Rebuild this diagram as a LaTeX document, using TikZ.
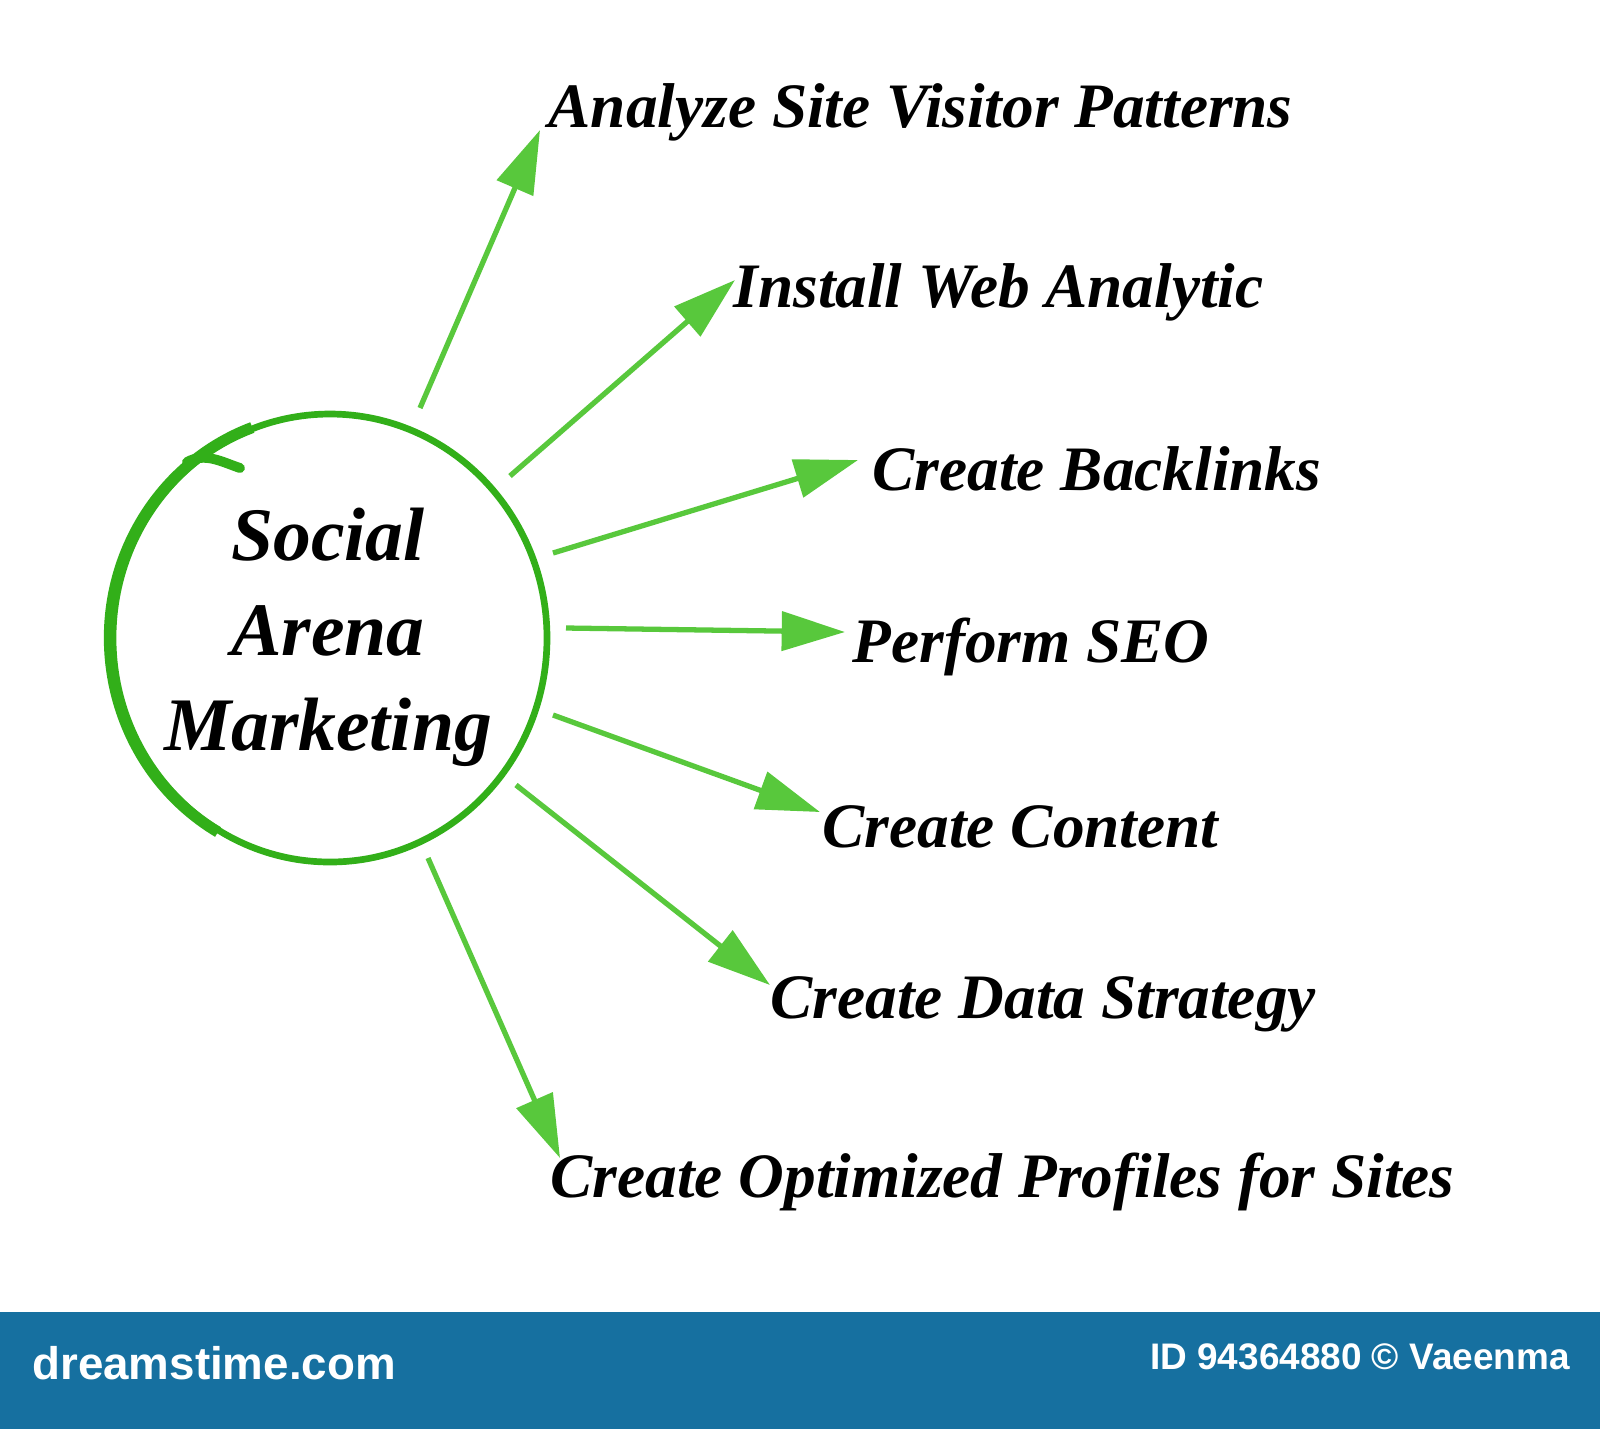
\documentclass[tikz,border=0pt]{standalone}
\usepackage{fontspec}
\setmainfont{Liberation Serif}
\setsansfont{Liberation Sans}
\usetikzlibrary{arrows.meta}
\definecolor{arr}{RGB}{88,200,60}
\definecolor{circ}{RGB}{50,175,25}
\definecolor{bar}{RGB}{22,112,160}
\tikzset{
  conn/.style={draw=arr,line width=1.5pt,-{Triangle[length=18pt,width=11pt]}},
  lbl/.style={anchor=west,inner sep=0pt,font=\fontsize{18}{21}\selectfont\bfseries\itshape},
  ctr/.style={align=center,inner sep=0pt,font=\fontsize{21.5}{27}\selectfont\bfseries\itshape}
}
\begin{document}
\begin{tikzpicture}[x=0.01cm,y=-0.01cm]
\useasboundingbox (0,0) rectangle (1600,1429);
\fill[white] (0,0) rectangle (1600,1429);
% circle
\draw[circ,line width=1.9pt] (330,638) ellipse [x radius=217,y radius=224];
\draw[circ,line width=3.2pt] (330,638) ++(120:224) arc[start angle=120,end angle=250,x radius=217,y radius=224];
\draw[circ,line width=2.8pt,line cap=round] (187,462) .. controls (205,452) and (222,462) .. (240,468);
\node[ctr] (c) at (328,637) {Social\\Arena\\Marketing};
% labels
\node[lbl] (l1) at (548,112) {Analyze Site Visitor Patterns};
\node[lbl] (l2) at (733,292) {Install Web Analytic};
\node[lbl] (l3) at (872,469) {Create Backlinks};
\node[lbl] (l4) at (852,647) {Perform SEO};
\node[lbl] (l5) at (822,827) {Create Content};
\node[lbl] (l6) at (770,1004) {Create Data Strategy};
\node[lbl] (l7) at (550,1182) {Create Optimized Profiles for Sites};
% arrows
\coordinate (s1) at (420,408); \coordinate (e1) at (540,130);
\coordinate (s2) at (510,476); \coordinate (e2) at (735,280);
\coordinate (s3) at (553,553); \coordinate (e3) at (858,460);
\coordinate (s4) at (566,628); \coordinate (e4) at (845,632);
\coordinate (s5) at (553,715); \coordinate (e5) at (820,812);
\coordinate (s6) at (516,785); \coordinate (e6) at (770,985);
\coordinate (s7) at (428,858); \coordinate (e7) at (560,1158);
\foreach \i in {1,...,7} \draw[conn] (s\i) -- (e\i);
% footer bar
\fill[bar] (0,1312) rectangle (1600,1429);
\node[anchor=west,text=white,font=\sffamily\bfseries\fontsize{13}{16}\selectfont] (wm) at (20,1363) {dreamstime.com};
\node[anchor=east,text=white,font=\sffamily\bfseries\fontsize{10.5}{13}\selectfont] (id) at (1582,1357) {ID 94364880 © Vaeenma};
\end{tikzpicture}
\end{document}
